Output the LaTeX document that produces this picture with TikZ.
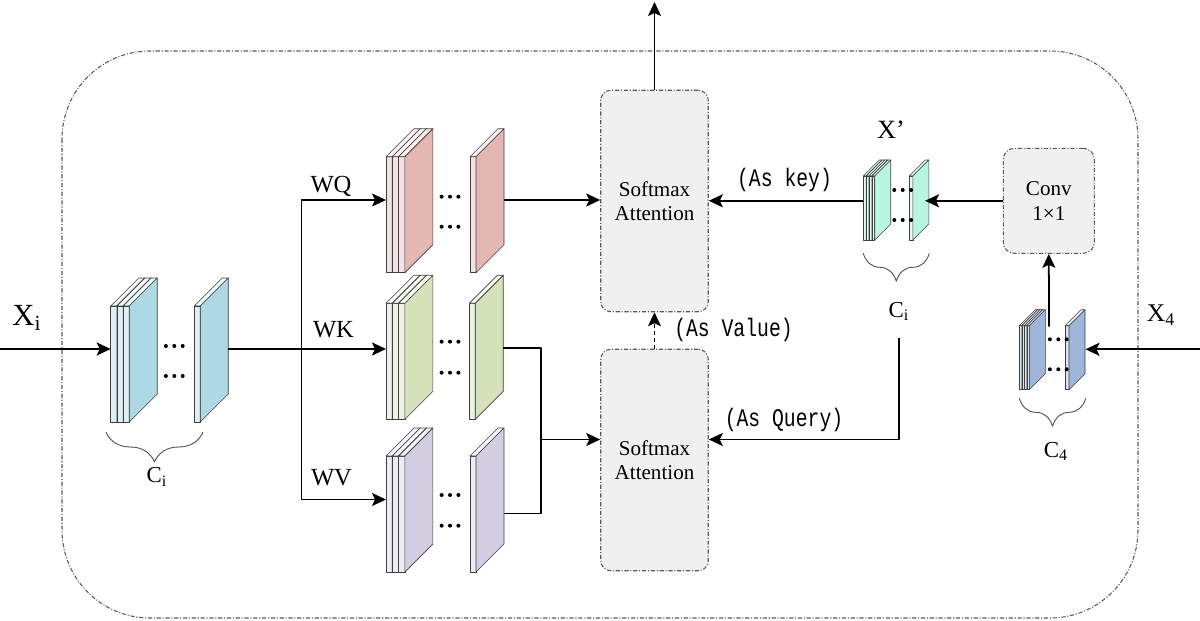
\documentclass[tikz,border=0pt]{standalone}
\usepackage{fontspec}
\setmainfont{Liberation Serif}
\newfontfamily\monoas[FakeStretch=0.78]{Liberation Mono}
\usepackage{xcolor}
\usepackage{tikz}
\usetikzlibrary{arrows.meta}
\usetikzlibrary{positioning}
\usetikzlibrary{decorations.pathreplacing}

\definecolor{cyanside}{RGB}{174,216,228}
\definecolor{pinkside}{RGB}{228,183,178}
\definecolor{greenside}{RGB}{213,226,186}
\definecolor{purpleside}{RGB}{211,205,226}
\definecolor{mintside}{RGB}{184,246,226}
\definecolor{blueside}{RGB}{157,182,217}

% one feature slab: x, top y, front width, height, depth, colour
\newcommand{\fmslab}[6]{%
  \filldraw[slabedge, fill=#6!40!white] (#1,#2) rectangle ++(#3,#4);
  \filldraw[slabedge, fill=#6!18!white] (#1,#2) -- ++(#5,-#5) -- ++(#3,0) -- ++(-#5,#5) -- cycle;
  \filldraw[slabedge, fill=#6] ({#1+#3},#2) -- ++(#5,-#5) -- ++(0,#4) -- ++(-#5,#5) -- cycle;
}
% stack of slabs: x, top y, count, front width, height, depth, colour
\newcommand{\fmstack}[7]{%
  \foreach \k in {1,...,#3} {
    \pgfmathsetmacro{\sx}{#1+#4*(\k-1)}
    \fmslab{\sx}{#2}{#4}{#5}{#6}{#7}
  }
}
% two rows of dots: centre x, first y, second y
\newcommand{\fmdots}[3]{%
  \foreach \dx in {-8.4,0,8.4} {
    \fill ({#1+\dx},#2) circle[radius=0.04cm];
    \fill ({#1+\dx},#3) circle[radius=0.04cm];
  }
}

\begin{document}
\begin{tikzpicture}[
  x=0.02cm, y=-0.02cm,
  font=\fontsize{12}{14}\selectfont,
  line join=round
]
\tikzset{
  slabedge/.style = {draw=black!75, line width=0.35pt},
  dashdot/.style = {draw=black!65, line width=0.6pt, dash pattern=on 2.4pt off 1pt on 0.6pt off 1pt},
  attnode/.style = {dashdot, rounded corners=0.2cm, fill=black!6, align=center, minimum width=2.15cm, minimum height=4.43cm, inner sep=0pt},
  convnode/.style = {dashdot, rounded corners=0.22cm, fill=black!6, align=center, minimum width=1.82cm, minimum height=2.1cm, inner sep=0pt},
  arrowline/.style = {line width=1pt, -{Stealth[length=2.8mm,width=2.6mm,inset=0.6mm]}},
  plainline/.style = {line width=1pt},
  wlabel/.style = {font=\fontsize{14}{16}\selectfont, inner sep=0pt},
  clabel/.style = {font=\fontsize{13}{15}\selectfont, inner sep=0pt},
  inlabel/.style = {font=\fontsize{17.5}{19}\selectfont, inner sep=0pt},
  aslabel/.style = {font=\monoas\fontsize{14.4}{16}\selectfont, inner sep=0pt},
  bracebelow/.style = {draw=black!70, line width=0.5pt, decorate, decoration={brace, mirror, amplitude=#1}}
}
\useasboundingbox (0,0) rectangle (1200,621);
\draw[dashdot, rounded corners=1.76cm] (62,51) rectangle (1138,618);

% feature maps
\fmstack{110.7}{306}{3}{6.2}{116}{28}{cyanside}
\fmslab{194.3}{306}{6}{116}{28}{cyanside}
\fmdots{174.3}{346}{376}
\fmstack{386}{156.7}{3}{6.3}{116}{28}{pinkside}
\fmslab{470}{156.7}{6}{116}{28}{pinkside}
\fmdots{450}{196.7}{226.7}
\fmstack{386}{303.3}{3}{6.3}{116}{28}{greenside}
\fmslab{469.3}{303.3}{6}{116}{28}{greenside}
\fmdots{450}{341.7}{372.7}
\fmstack{386}{456}{3}{6.3}{116}{28}{purpleside}
\fmslab{470}{456}{6}{116}{28}{purpleside}
\fmdots{450}{495}{525.7}
\fmstack{863.3}{176}{4}{2.85}{64}{16}{mintside}
\fmslab{909.3}{176}{3.5}{64}{16}{mintside}
\fmdots{902.7}{190}{220}
\fmstack{1019.3}{325.7}{4}{2.5}{64}{16}{blueside}
\fmslab{1065}{325.7}{4}{64}{16}{blueside}
\fmdots{1058.3}{339.3}{369.3}

\draw[bracebelow=0.6cm] (106,432) -- (203,432);
\draw[bracebelow=0.56cm] (863.3,253.3) -- (929.3,253.3);
\draw[bracebelow=0.56cm] (1019.3,398.3) -- (1085.7,398.3);

\node[attnode] (sm1) at (654.5,201) {Softmax\\Attention};
\node[attnode] (sm2) at (654.5,460) {Softmax\\Attention};
\node[convnode] (conv) at (1048.8,200.8) {Conv\\1×1};

\coordinate (xi-in) at (0,349);
\coordinate (ci-in) at (110.7,349);
\coordinate (ci-out) at (228.3,349);
\coordinate (bus) at (301.5,349);
\coordinate (wq-in) at (386,200);
\coordinate (wk-in) at (386,349);
\coordinate (wv-in) at (386,499.5);
\coordinate (wq-out) at (504,200);
\coordinate (wk-out) at (503.3,348);
\coordinate (wv-out) at (504,513.5);
\coordinate (kv-join) at (541,439.5);
\coordinate (xp-in) at (863.3,200.8);
\coordinate (xp-tip) at (925,200.8);
\coordinate (q-start) at (899.3,338);
\coordinate (c4-up) at (1049,326.7);
\coordinate (c4-tip) at (1085.5,349.3);
\coordinate (x4-in) at (1200,349.3);
\coordinate (out-top) at (654.5,2);

\draw[arrowline] (xi-in) -- (ci-in);
\draw[plainline] (ci-out) -- (bus);
\draw[arrowline] (bus) -- (wk-in);
\draw[arrowline] (bus) |- (wq-in);
\draw[arrowline] (bus) |- (wv-in);
\draw[arrowline] (wq-out) -- (wq-out -| sm1.west);
\draw[plainline] (wk-out) -| (kv-join) |- (wv-out);
\draw[arrowline] (kv-join) -- (kv-join -| sm2.west);
\draw[arrowline, dash pattern=on 2.3pt off 1.7pt] (sm2.north) -- (sm1.south);
\draw[arrowline] (sm1.north) -- (out-top);
\draw[arrowline] (xp-in) -- (xp-in -| sm1.east);
\draw[arrowline] (q-start) |- (sm2.east |- kv-join);
\draw[arrowline] (conv.west) -- (xp-tip);
\draw[arrowline] (c4-up) -- (conv.south);
\draw[arrowline] (x4-in) -- (c4-tip);

\node[inlabel] (xi) at (27,318) {X\textsubscript{i}};
\node[clabel] (ci) at (157,477) {C\textsubscript{i}};
\node[wlabel] (wq) at (331,186) {WQ};
\node[wlabel] (wk) at (333.5,330) {WK};
\node[wlabel] (wv) at (331.5,478) {WV};
\node[inlabel, font=\fontsize{15}{17}\selectfont] (xp) at (891,130) {X’};
\node[clabel] (cip) at (899,311.7) {C\textsubscript{i}};
\node[clabel] (c4) at (1056,451.7) {C\textsubscript{4}};
\node[inlabel, font=\fontsize{14.5}{16}\selectfont] (x4) at (1161,315) {X\textsubscript{4}};
\node[aslabel] (askey) at (784.5,180) {(As key)};
\node[aslabel] (asvalue) at (733.5,330) {(As Value)};
\node[aslabel] (asquery) at (784,420) {(As Query)};
\end{tikzpicture}
\end{document}
